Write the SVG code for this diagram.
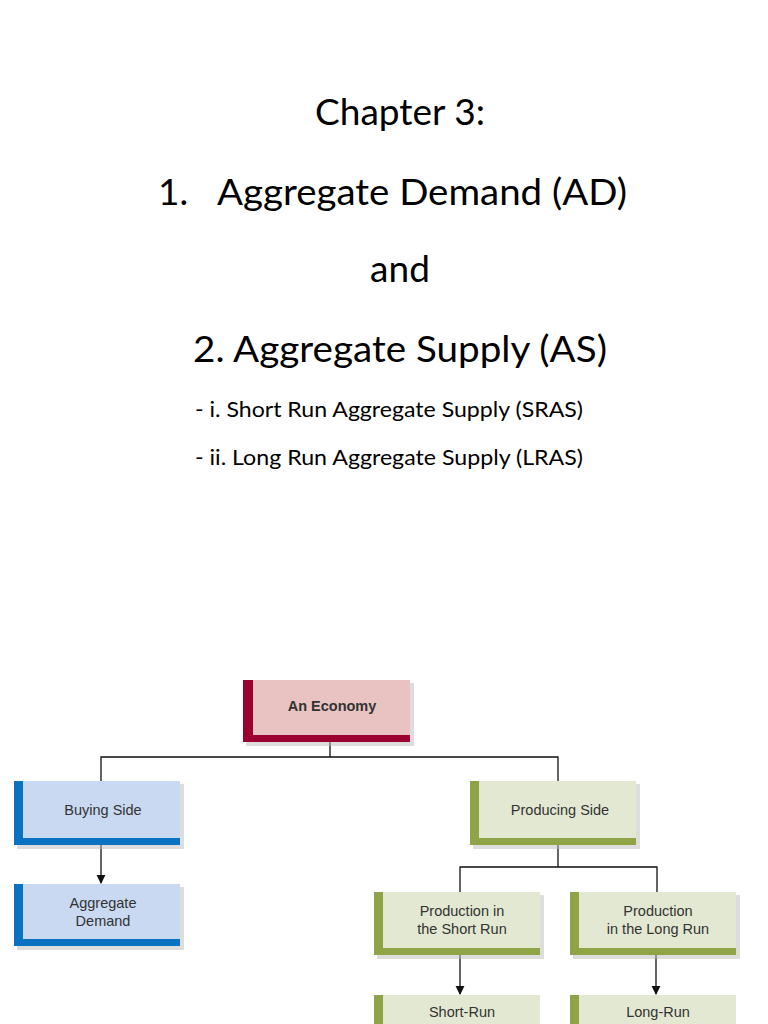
<svg xmlns="http://www.w3.org/2000/svg" width="768" height="1024" viewBox="0 0 768 1024">
<defs>
<style>
.t{font-family:Lato,"Open Sans",sans-serif;fill:#000}
.n{font-family:"Liberation Sans",Arial,sans-serif;font-size:14.5px;text-anchor:middle;fill:#333}
.ln{stroke:#111;stroke-width:1.3;fill:none}
.sh{fill:#bbb;opacity:.5}
</style>
<marker id="ar" viewBox="0 0 10 10" refX="9" refY="5" markerWidth="7" markerHeight="8" orient="auto"><path d="M0,0L10,5L0,10z" fill="#111"/></marker>
</defs>
<rect width="768" height="1024" fill="#fff"/>
<g id="title">
<text class="t" x="400" y="125" font-size="37" text-anchor="middle">Chapter 3:</text>
<text class="t" x="158" y="205" font-size="37">1.</text>
<text class="t" x="217" y="205" font-size="37" textLength="410" lengthAdjust="spacingAndGlyphs">Aggregate Demand (AD)</text>
<text class="t" x="400" y="282" font-size="37" text-anchor="middle">and</text>
<text class="t" x="193" y="362" font-size="37" textLength="414" lengthAdjust="spacingAndGlyphs">2. Aggregate Supply (AS)</text>
<text class="t" x="195" y="417" font-size="21" textLength="388" lengthAdjust="spacingAndGlyphs">- i. Short Run Aggregate Supply (SRAS)</text>
<text class="t" x="195" y="465" font-size="21" textLength="388" lengthAdjust="spacingAndGlyphs">- ii. Long Run Aggregate Supply (LRAS)</text>
</g>
<g id="connectors">
<path class="ln" d="M330,742V757M101,781V757H558V781M558,845V867M460,892V867H657V892"/>
<path class="ln" d="M101,845V883" marker-end="url(#ar)"/>
<path class="ln" d="M460,955V994" marker-end="url(#ar)"/>
<path class="ln" d="M656,955V994" stroke-width="2" marker-end="url(#ar)"/>
</g>
<g id="economy">
<rect class="sh" x="246" y="683" width="168" height="63"/>
<rect x="243" y="680" width="167" height="62" fill="#e8c3c1"/>
<rect x="243" y="680" width="10" height="62" fill="#9a0030"/>
<rect x="243" y="735" width="167" height="7" fill="#9a0030"/>
<text x="332" y="711" class="n" font-weight="bold" fill="#222">An Economy</text>
</g>
<g id="buying">
<rect class="sh" x="17" y="784" width="167" height="65"/>
<rect x="14" y="781" width="166" height="64" fill="#c8d9f1"/>
<rect x="14" y="781" width="9" height="64" fill="#0a72c0"/>
<rect x="14" y="838" width="166" height="7" fill="#0a72c0"/>
<text x="103" y="815" class="n">Buying Side</text>
</g>
<g id="ad">
<rect class="sh" x="17" y="887" width="167" height="63"/>
<rect x="14" y="884" width="166" height="62" fill="#c8d9f1"/>
<rect x="14" y="884" width="9" height="62" fill="#0a72c0"/>
<rect x="14" y="939" width="166" height="7" fill="#0a72c0"/>
<text x="103" y="908" class="n">Aggregate</text>
<text x="103" y="926" class="n">Demand</text>
</g>
<g id="producing">
<rect class="sh" x="473" y="784" width="167" height="65"/>
<rect x="470" y="781" width="166" height="64" fill="#e3e8d2"/>
<rect x="470" y="781" width="9" height="64" fill="#8fa347"/>
<rect x="470" y="838" width="166" height="7" fill="#8fa347"/>
<text x="560" y="815" class="n">Producing Side</text>
</g>
<g id="psr">
<rect class="sh" x="377" y="895" width="167" height="64"/>
<rect x="374" y="892" width="166" height="63" fill="#e3e8d2"/>
<rect x="374" y="892" width="9" height="63" fill="#8fa347"/>
<rect x="374" y="948" width="166" height="7" fill="#8fa347"/>
<text x="462" y="916" class="n">Production in</text>
<text x="462" y="934" class="n">the Short Run</text>
</g>
<g id="plr">
<rect class="sh" x="573" y="895" width="167" height="64"/>
<rect x="570" y="892" width="166" height="63" fill="#e3e8d2"/>
<rect x="570" y="892" width="9" height="63" fill="#8fa347"/>
<rect x="570" y="948" width="166" height="7" fill="#8fa347"/>
<text x="658" y="916" class="n">Production</text>
<text x="658" y="934" class="n">in the Long Run</text>
</g>
<g id="sr">
<rect x="374" y="995" width="166" height="40" fill="#e3e8d2"/>
<rect x="374" y="995" width="9" height="40" fill="#8fa347"/>
<text x="462" y="1017" class="n">Short-Run</text>
</g>
<g id="lr">
<rect x="570" y="995" width="166" height="40" fill="#e3e8d2"/>
<rect x="570" y="995" width="9" height="40" fill="#8fa347"/>
<text x="658" y="1017" class="n">Long-Run</text>
</g>
</svg>
